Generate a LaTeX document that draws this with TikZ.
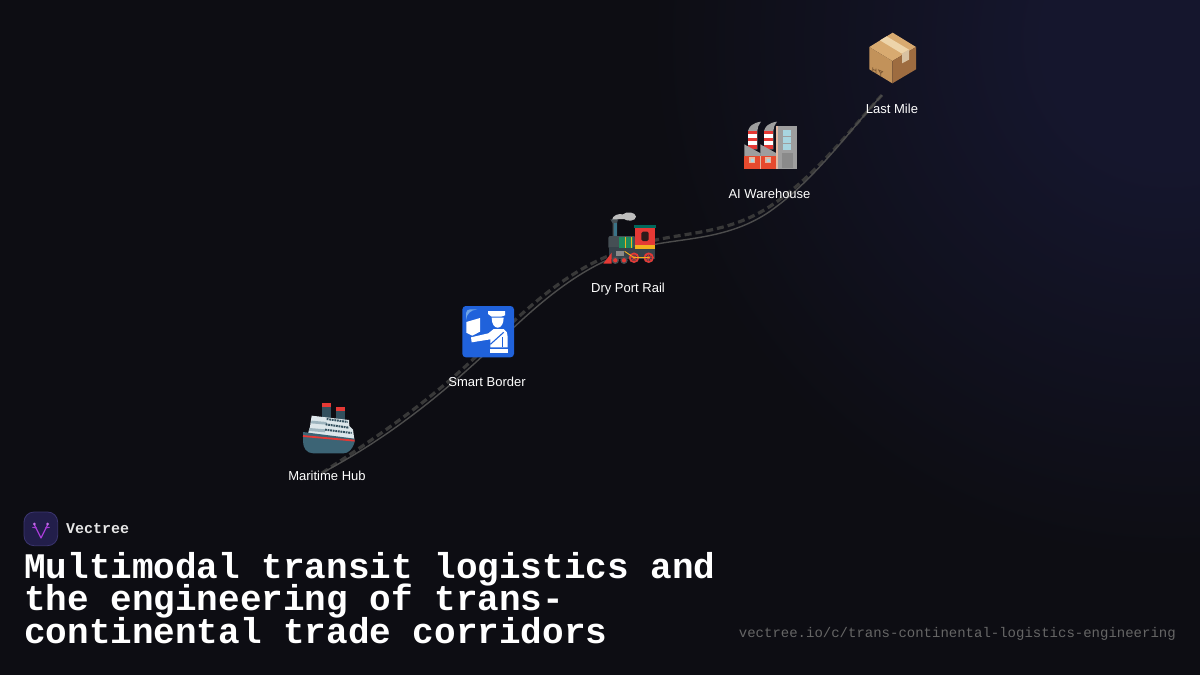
\documentclass[tikz,border=0pt]{standalone}
\usepackage{fontspec}
\setmainfont{Liberation Sans}
\newfontfamily\monofam{Liberation Mono}
\definecolor{bgc}{HTML}{0D0D13}
\definecolor{glowc}{HTML}{15162D}
\definecolor{deck}{HTML}{DDE7EB}
\definecolor{deckb}{HTML}{9DB4BE}
\definecolor{hull}{HTML}{3C6475}
\definecolor{hulld}{HTML}{33505E}
\definecolor{redc}{HTML}{E53935}
\definecolor{bluec}{HTML}{2062DB}
\definecolor{bluel}{HTML}{6FA5E6}
\definecolor{smoke}{HTML}{BDBDBD}
\definecolor{tgrey}{HTML}{454F54}
\definecolor{tdark}{HTML}{37424A}
\definecolor{tgreen}{HTML}{1E8A5E}
\definecolor{tyell}{HTML}{F2B01E}
\definecolor{tteal}{HTML}{00695C}
\definecolor{twin}{HTML}{2E1B1B}
\definecolor{tblue}{HTML}{3A7488}
\definecolor{fred}{HTML}{E64A2E}
\definecolor{fgrey}{HTML}{9E9E9E}
\definecolor{fgreyd}{HTML}{8A8A8A}
\definecolor{fwin}{HTML}{A8D5E0}
\definecolor{fpale}{HTML}{E3B9A2}
\definecolor{btop}{HTML}{D8AA70}
\definecolor{bleft}{HTML}{C2925A}
\definecolor{bright}{HTML}{9E6C40}
\definecolor{btape}{HTML}{EDD4AA}
\definecolor{bside}{HTML}{D8C2A2}
\definecolor{bmark}{HTML}{7A5733}
\definecolor{lfill}{HTML}{221E4A}
\definecolor{ledge}{HTML}{3B3570}
\definecolor{lpurp}{HTML}{A63BD6}
\definecolor{lpink}{HTML}{C26BE8}
\pgfdeclareradialshading{bgglow}{\pgfpoint{0bp}{0bp}}{color(0bp)=(glowc); color(6bp)=(glowc); color(25bp)=(bgc); color(50bp)=(bgc)}
\tikzset{
  lab/.style={anchor=base,font=\fontsize{13}{15}\selectfont,text=white,inner sep=0pt},
  railsolid/.style={draw=white!30!black,line width=1.4pt},
  raildash/.style={draw=white!22!black,line width=3.2pt,dash pattern=on 7pt off 4pt},
  icon/.style={shift={#1},scale=1/3},
  titleline/.style={anchor=base west,inner sep=0pt,font=\monofam\bfseries\fontsize{36}{36}\selectfont,text=white},
}
\begin{document}
\begin{tikzpicture}[x=1pt,y=-1pt]
\useasboundingbox (0,0) rectangle (1200,675);
\fill[bgc] (0,0) rectangle (1200,675);
\begin{scope}
\clip (0,0) rectangle (1200,675);
\shade[shading=bgglow] (1170,40) circle (520);
\end{scope}

% anchors of the route
\coordinate (hub) at (322,473);
\coordinate (borderS) at (487,352);
\coordinate (railS) at (628,252);
\coordinate (whS) at (769,212);
\coordinate (borderD) at (487,346);
\coordinate (railD) at (628,249);
\coordinate (whD) at (769,207);
\coordinate (last) at (882,95);

\draw[raildash] (hub) .. controls (375,438) and (430,402) .. (borderD)
  .. controls (515,321) and (565,267) .. (railD)
  .. controls (665,231) and (720,239) .. (whD)
  .. controls (815,177) and (850,130) .. (last);
\draw[railsolid] (hub) .. controls (380,442) and (430,405) .. (borderS)
  .. controls (515,328) and (565,272) .. (railS)
  .. controls (665,236) and (720,245) .. (whS)
  .. controls (815,180) and (850,130) .. (last);

% ship
\begin{scope}[icon={(295,398)}]
\fill[hulld] (81,18) rectangle (109,60);
\fill[redc] (81,14) rectangle (109,27);
\fill[hulld] (124,30) rectangle (149,70);
\fill[redc] (124,27) rectangle (149,40);
\fill[deck] (50,53) -- (162,66) -- (163,84) -- (174,95) -- (178,124) -- (38,110) -- (45,86) -- cycle;
\fill[deckb] (50,68) -- (95,72) -- (95,80) -- (47,76) -- cycle;
\fill[deckb] (44,90) -- (90,94) -- (90,103) -- (42,99) -- cycle;
\draw[hulld,line width=2pt,dash pattern=on 1.8pt off .8pt] (95,63) -- (158,72);
\draw[hulld,line width=2pt,dash pattern=on 1.8pt off .8pt] (92,79) -- (162,89);
\draw[hulld,line width=2pt,dash pattern=on 1.8pt off .8pt] (90,95) -- (170,105);
\fill[hull] (24,102) -- (179,122) -- (179,132) .. controls (172,155) and (160,166) .. (145,166)
  -- (55,166) .. controls (35,166) and (24,150) .. (24,130) -- cycle;
\draw[redc,line width=1.8pt] (24,114) -- (179,128);
\end{scope}

% officer
\begin{scope}[icon={(455,300)}]
\fill[bluec,rounded corners=3.5pt] (22,18) rectangle (177,172);
\fill[bluel] (33,62) .. controls (34,42) and (46,30) .. (67,28) -- (45,28) .. controls (38,28) and (33,33) .. (33,40) -- cycle;
\fill[white] (34,66) -- (75,54) -- (75,95) -- (52,107) -- (34,98) -- cycle;
\fill[white] (99,33) -- (150,33) -- (150,46) -- (138,50) -- (110,50) -- (99,42) -- cycle;
\fill[white] (110,53) -- (146,53) .. controls (146,72) and (138,83) .. (128,83) .. controls (118,83) and (110,72) .. (110,53) -- cycle;
\fill[white] (48,112) -- (100,100) -- (116,87) -- (146,87) .. controls (155,91) and (158,100) .. (158,110)
  -- (158,142) -- (106,142) -- (106,118) -- (50,127) -- cycle;
\draw[bluec,line width=1.1pt] (106,133) -- (146,97);
\draw[bluec,line width=.8pt] (141,112) -- (141,142);
\fill[white] (106,147) rectangle (158,158);
\end{scope}

% train
\begin{scope}[icon={(598,206)}]
\fill[smoke] (42,42) .. controls (44,28) and (60,22) .. (75,25) .. controls (85,15) and (113,18) .. (114,32) .. controls (113,46) and (88,47) .. (78,39) .. controls (68,38) and (56,38) .. (52,46) -- cycle;
\fill[tgrey] (37,40) -- (60,40) -- (57,52) -- (57,95) -- (44,95) -- (44,52) -- cycle;
\fill[tblue] (47,50) rectangle (57,92);
\fill[tgrey,rounded corners=2pt] (31,90) rectangle (112,128);
\fill[tdark] (32,124) rectangle (172,160);
\fill[tgreen] (64,94) rectangle (106,127);
\fill[tyell] (80,94) rectangle (84,127);
\fill[tyell] (98,94) rectangle (102,127);
\fill[redc] (112,64) rectangle (172,117);
\fill[tteal] (108,57) rectangle (175,66);
\fill[twin,rounded corners=1.5pt] (130,77) rectangle (152,105);
\fill[tyell] (112,116) rectangle (172,128);
\fill[fgreyd] (54,134) rectangle (78,149);
\fill[redc] (16,173) -- (41,173) -- (41,140) -- cycle;
\foreach \cx in {108,152}{
  \fill[tdark] (\cx,155) circle (16);
  \draw[redc,line width=1.6pt] (\cx,155) circle (13);
  \draw[redc,line width=.6pt] (\cx-13,155) -- (\cx+13,155) (\cx,142) -- (\cx,168) (\cx-9,146) -- (\cx+9,164) (\cx-9,164) -- (\cx+9,146);
  \fill[redc] (\cx,155) circle (4);
}
\foreach \cx in {52,78}{
  \fill[tgrey] (\cx,163) circle (11);
  \fill[redc] (\cx,163) circle (6.5);
}
\draw[tyell,line width=.9pt] (80,136) -- (108,155) -- (155,155);
\end{scope}

% factory
\begin{scope}[icon={(737,116)}]
\foreach \dx in {0,48}{
 \begin{scope}[shift={(\dx,0)}]
  \fill[fgrey] (33,100) -- (33,45) .. controls (36,30) and (50,20) .. (72,17) .. controls (65,25) and (61,35) .. (61,45) -- (61,100) -- cycle;
  \fill[redc] (33,44) rectangle (61,100);
  \fill[white] (33,54) rectangle (61,65);
  \fill[white] (33,76) rectangle (61,87);
  \fill[fgrey] (22,85) -- (71,112) -- (71,120) -- (22,120) -- cycle;
  \fill[fred] (22,120) rectangle (70,160);
  \fill[fpale] (37,124) rectangle (55,142);
  \fill[fwin] (41,128) rectangle (51,138);
 \end{scope}
}
\fill[fpale] (69.5,120) rectangle (72,160);
\fill[fpale] (118,30) rectangle (127,160);
\fill[fgrey] (124,30) rectangle (180,160);
\fill[fwin] (137,42) rectangle (163,60);
\fill[fwin] (137,63) rectangle (163,81);
\fill[fwin] (137,84) rectangle (163,102);
\fill[fgreyd] (136,112) rectangle (168,156);
\end{scope}

% parcel
\begin{scope}[icon={(860,28)}]
\fill[btop] (98,14) -- (168,57) -- (97,99) -- (28,57) -- cycle;
\fill[bleft] (28,57) -- (97,99) -- (97,166) -- (28,124) -- cycle;
\fill[bright] (168,57) -- (97,99) -- (97,166) -- (168,124) -- cycle;
\fill[btape] (60,37) -- (80,25) -- (147,65) -- (126,77) -- cycle;
\fill[bside] (126,77) -- (147,65) -- (147,95) -- (126,106) -- cycle;
\draw[bmark,line width=.7pt] (38,118) -- (38,132) (48,122) -- (48,136) (38,124) -- (48,128);
\draw[bmark,line width=.7pt] (56,126) -- (68,131) -- (62,136) -- cycle (62,136) -- (62,145);
\end{scope}

% labels
\node[lab] (lhub) at (327,480) {Maritime Hub};
\node[lab] (lborder) at (487,386) {Smart Border};
\node[lab] (lrail) at (628,292) {Dry Port Rail};
\node[lab] (lwh) at (769.5,198) {AI Warehouse};
\node[lab] (llast) at (892,113) {Last Mile};

% logo
\begin{scope}[icon={(20,508)}]
\fill[lfill,draw=ledge,line width=.8pt,rounded corners=10pt] (12,12) rectangle (113,113);
\draw[lpurp,line width=1.2pt,line cap=round,line join=round] (43,50) -- (63,90) -- (83,50);
\draw[lpurp,line width=1pt,line cap=round] (38,58) -- (50,60) (88,58) -- (76,60);
\fill[lpink] (43,48) circle (4.5);
\fill[lpink] (83,48) circle (4.5);
\end{scope}
\node[anchor=base west,inner sep=0pt,font=\monofam\bfseries\fontsize{15}{17}\selectfont,text=white!90!black] (brand) at (66,533.5) {Vectree};
\node[titleline] (title1) at (24,578.5) {Multimodal transit logistics and};
\node[titleline] (title2) at (24,610.9) {the engineering of trans-};
\node[titleline] (title3) at (24,643.3) {continental trade corridors};
\node[anchor=base east,inner sep=0pt,font=\monofam\fontsize{14}{16}\selectfont,text=white!40!black] (url) at (1176,637) {vectree.io/c/trans-continental-logistics-engineering};
\end{tikzpicture}
\end{document}
